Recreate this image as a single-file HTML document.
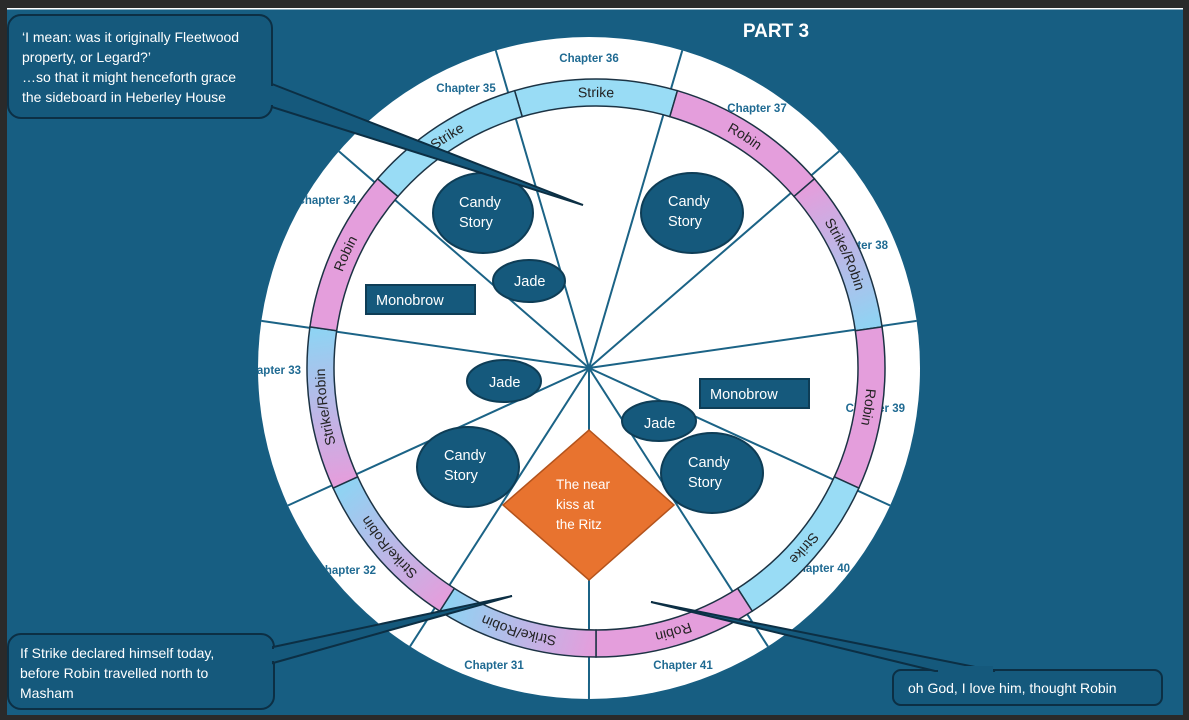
<!DOCTYPE html>
<html><head><meta charset="utf-8">
<style>
html,body{margin:0;padding:0;background:#2a2a2a;}
svg{display:block;}
text{font-family:"Liberation Sans",sans-serif;}
</style></head>
<body>
<svg id="s" width="1189" height="720" viewBox="0 0 1189 720" xmlns="http://www.w3.org/2000/svg">
<defs>
<clipPath id="cc"><circle cx="589" cy="368" r="331"/></clipPath>
</defs>
<rect x="0" y="0" width="1189" height="720" fill="#2a2a2a"/>
<rect x="7" y="8" width="1176" height="1.5" fill="#ffffff"/>
<rect x="7" y="9.5" width="1176" height="705.5" fill="#175e82"/>
<text x="776" y="37" font-size="19" font-weight="bold" fill="#fff" text-anchor="middle">PART 3</text>
<circle cx="589" cy="368" r="331" fill="#fff"/>
<g id="spokes" stroke="#1b6386" stroke-width="2"></g>
<g clip-path="url(#cc)" font-size="11.5" font-weight="bold" fill="#1f6a92">
<text x="589" y="62" text-anchor="middle">Chapter 36</text>
<text x="466" y="92" text-anchor="middle">Chapter 35</text>
<text x="356" y="204" text-anchor="end">Chapter 34</text>
<text x="301" y="374" text-anchor="end">Chapter 33</text>
<text x="376" y="574" text-anchor="end">Chapter 32</text>
<text x="494" y="669" text-anchor="middle">Chapter 31</text>
<text x="683" y="669" text-anchor="middle">Chapter 41</text>
<text x="850" y="572" text-anchor="end">Chapter 40</text>
<text x="905" y="412" text-anchor="end">Chapter 39</text>
<text x="888" y="249" text-anchor="end">Chapter 38</text>
</g>
<g id="band"></g>
<text x="757" y="112" text-anchor="middle" font-size="11.5" font-weight="bold" fill="#1f6a92">Chapter 37</text>
<g font-size="14" fill="#222">
<text><textPath href="#tp0" startOffset="50%" text-anchor="middle">Strike</textPath></text>
<text><textPath href="#tp1" startOffset="50%" text-anchor="middle">Robin</textPath></text>
<text><textPath href="#tp2" startOffset="50%" text-anchor="middle">Strike/Robin</textPath></text>
<text><textPath href="#tp3" startOffset="50%" text-anchor="middle">Robin</textPath></text>
<text><textPath href="#tp4" startOffset="50%" text-anchor="middle">Strike</textPath></text>
<text><textPath href="#tp5" startOffset="50%" text-anchor="middle">Robin</textPath></text>
<text><textPath href="#tp6" startOffset="50%" text-anchor="middle">Strike/Robin</textPath></text>
<text><textPath href="#tp7" startOffset="50%" text-anchor="middle">Strike/Robin</textPath></text>
<text><textPath href="#tp8" startOffset="50%" text-anchor="middle">Strike/Robin</textPath></text>
<text><textPath href="#tp9" startOffset="50%" text-anchor="middle">Robin</textPath></text>
<text><textPath href="#tp10" startOffset="50%" text-anchor="middle">Strike</textPath></text>
</g>
<g fill="#15597c" stroke="#0e3d56" stroke-width="2">
<ellipse cx="483" cy="213" rx="50" ry="40"/>
<ellipse cx="692" cy="213" rx="51" ry="40"/>
<ellipse cx="529" cy="281" rx="36" ry="21"/>
<rect x="366" y="285" width="109" height="29"/>
<ellipse cx="504" cy="381" rx="37" ry="21"/>
<ellipse cx="468" cy="467" rx="51" ry="40"/>
<rect x="700" y="379" width="109" height="29"/>
<ellipse cx="659" cy="421" rx="37" ry="20"/>
<ellipse cx="712" cy="473" rx="51" ry="40"/>
</g>
<polygon points="589,430 674,505 589,580 503,505" fill="#e8732f" stroke="#b4531c" stroke-width="1.5"/>
<g fill="#fff" font-size="14.5">
<text x="459" y="207">Candy</text><text x="459" y="227">Story</text>
<text x="668" y="206">Candy</text><text x="668" y="226">Story</text>
<text x="514" y="286">Jade</text>
<text x="376" y="305">Monobrow</text>
<text x="489" y="387">Jade</text>
<text x="444" y="460">Candy</text><text x="444" y="480">Story</text>
<text x="710" y="399">Monobrow</text>
<text x="644" y="428">Jade</text>
<text x="688" y="467">Candy</text><text x="688" y="487">Story</text>
</g>
<g fill="#fff" font-size="13.5">
<text x="556" y="489">The near</text><text x="556" y="509">kiss at</text><text x="556" y="529">the Ritz</text>
</g>
<g fill="#15597c" stroke="#0c2f44" stroke-width="2">
<rect x="8" y="15" width="264" height="103" rx="13"/>
<rect x="8" y="634" width="266" height="75" rx="13"/>
<rect x="893" y="670" width="269" height="35" rx="8"/>
</g>
<g fill="#15597c" stroke="#0c2f44" stroke-width="2" stroke-linejoin="miter">
<polygon points="272,84 583,205 272,107"/>
<polygon points="273,647 512,596 273,663"/>
<polygon points="651,602 995,671 935,671"/>
</g>
<g fill="#15597c">
<rect x="266" y="86" width="8" height="19"/>
<rect x="267" y="649" width="8" height="12"/>
<rect x="938" y="666" width="55" height="6"/>
</g>
<g fill="#fff" font-size="14">
<text x="22" y="42">‘I mean: was it originally Fleetwood</text>
<text x="22" y="62">property, or Legard?’</text>
<text x="22" y="82">…so that it might henceforth grace</text>
<text x="22" y="102">the sideboard in Heberley House</text>
<text x="20" y="658"> If Strike declared himself today,</text>
<text x="20" y="678">before Robin travelled north to</text>
<text x="20" y="698">Masham</text>
<text x="908" y="693">oh God, I love him, thought Robin</text>
</g>
</svg>
<script>
(function(){
var NS="http://www.w3.org/2000/svg";
function P(cx,cy,r,a){a=a*Math.PI/180;return [cx+r*Math.sin(a),cy-r*Math.cos(a)];}
function el(t,at,par){var e=document.createElementNS(NS,t);for(var k in at)e.setAttribute(k,at[k]);par.appendChild(e);return e;}
var sp=document.getElementById("spokes");
for(var j=0;j<11;j++){var a=-16.36+j*32.727;var p=P(589,368,331,a);el("line",{x1:589,y1:368,x2:p[0],y2:p[1]},sp);}
var band=document.getElementById("band"),defs=document.querySelector("defs");
var B="#99dcf5",R="#e49edc",G="g";
var cols=[B,R,G,R,B,R,G,G,G,R,B];
var bx=596,by=368,r1=262,r2=289,rt=271;
for(var i=0;i<11;i++){
 var a0=-16.36+i*32.727,a1=a0+32.727;
 var o0=P(bx,by,r2,a0),o1=P(bx,by,r2,a1),i1=P(bx,by,r1,a1),i0=P(bx,by,r1,a0);
 var fill=cols[i];
 if(fill==="g"){
  var m0=P(bx,by,rt,a0),m1=P(bx,by,rt,a1);
  var lg=el("linearGradient",{id:"lg"+i,gradientUnits:"userSpaceOnUse",x1:m0[0],y1:m0[1],x2:m1[0],y2:m1[1]},defs);
  el("stop",{offset:"0","stop-color":"#e49edc"},lg);
  el("stop",{offset:"1","stop-color":"#8fd3f3"},lg);
  fill="url(#lg"+i+")";
 }
 var d="M"+o0[0]+","+o0[1]+" A"+r2+","+r2+" 0 0 1 "+o1[0]+","+o1[1]+" L"+i1[0]+","+i1[1]+" A"+r1+","+r1+" 0 0 0 "+i0[0]+","+i0[1]+" Z";
 el("path",{d:d,fill:fill,stroke:"#1c3344","stroke-width":"1.5"},band);
 var t0=P(bx,by,rt,a0),t1=P(bx,by,rt,a1);
 el("path",{id:"tp"+i,d:"M"+t0[0]+","+t0[1]+" A"+rt+","+rt+" 0 0 1 "+t1[0]+","+t1[1],fill:"none"},defs);
}
})();
</script>
</body></html>
